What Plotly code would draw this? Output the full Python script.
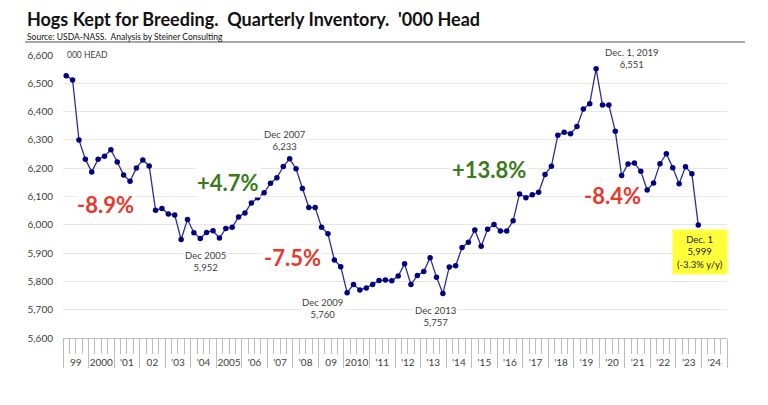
import plotly.graph_objects as go

# ---- data (quarterly breeding hog inventory, '000 head) ----
inventory = [
    6527, 6512, 6300, 6232, 6187, 6232, 6242, 6265, 6222, 6176,
    6154, 6201, 6229, 6208, 6051, 6058, 6038, 6035, 5948, 6019,
    5972, 5952, 5973, 5979, 5953, 5987, 5991, 6028, 6042, 6077,
    6096, 6113, 6147, 6166, 6206, 6233, 6198, 6128, 6061, 6061,
    5991, 5968, 5876, 5852, 5760, 5789, 5770, 5777, 5789, 5803,
    5805, 5802, 5819, 5862, 5789, 5821, 5835, 5884, 5815, 5757,
    5851, 5855, 5920, 5938, 5982, 5924, 5984, 6001, 5978, 5978,
    6014, 6109, 6096, 6106, 6115, 6178, 6207, 6316, 6327, 6322,
    6347, 6409, 6428, 6551, 6423, 6423, 6331, 6174, 6215, 6218,
    6189, 6123, 6148, 6216, 6251, 6202, 6145, 6205, 6180, 5999,
]
year_labels = ["99", "2000", "'01", "02", "'03", "'04", "2005", "'06", "'07", "'08",
               "09", "2010", "'11", "'12", "'13", "'14", "'15", "'16", "'17", "'18",
               "'19", "'20", "'21", "'22", "'23", "'24"]
quarters_per_year = 4
n_slots = len(year_labels) * quarters_per_year

# labelled points: (index, caption)
point_labels = [(21, "Dec 2005"), (35, "Dec 2007"), (44, "Dec 2009"),
                (59, "Dec 2013"), (83, "Dec. 1, 2019")]
point_shifts = {21: (5, -23), 35: (-5, 18), 44: (-25, -16), 59: (-7, -23), 83: (36, 10)}

pct_changes = [("-8.9%", 6.6, 6070, "#e8372c"), ("+4.7%", 25.8, 6148, "#3b7b20"),
               ("-7.5%", 36.0, 5883, "#e8372c"), ("+13.8%", 66.7, 6194, "#3b7b20"),
               ("-8.4%", 86.0, 6103, "#e8372c")]

x_pos = [i + 0.5 for i in range(len(inventory))]
FONT = "Lato, Calibri, Carlito, sans-serif"
TXT = "#404040"
TICK = "#bcbcbc"

fig = go.Figure()
# hidden trace on the label axis
fig.add_trace(go.Scatter(
    x=x_pos, y=inventory, xaxis="x2", yaxis="y", mode="markers",
    marker=dict(size=1, opacity=0), hoverinfo="skip", showlegend=False,
))
fig.add_trace(go.Scatter(
    x=x_pos, y=inventory, mode="lines+markers",
    line=dict(color="#2b2f95", width=1.3),
    marker=dict(color="#000080", size=5.5),
    hoverinfo="skip", showlegend=False,
))

annotations = []
for idx, cap in point_labels:
    dx, dy = point_shifts[idx]
    annotations.append(dict(
        x=x_pos[idx], y=inventory[idx], xref="x", yref="y",
        text=f"{cap}<br>{inventory[idx]:,}", showarrow=False,
        xshift=dx, yshift=dy, bgcolor="white",
        font=dict(family=FONT, size=9.5, color=TXT), align="center",
    ))
last = len(inventory) - 1
annotations.append(dict(
    x=x_pos[last], y=inventory[last], xref="x", yref="y",
    text=f"Dec. 1<br>{inventory[last]:,}<br>(-3.3% y/y)", showarrow=False,
    xshift=2, yshift=-27, bgcolor="#ffff3a", borderpad=4,
    font=dict(family=FONT, size=9.5, color="#202020"), align="center",
))
for txt, xx, yy, col in pct_changes:
    annotations.append(dict(
        x=xx, y=yy, xref="x", yref="y", text=f"<b>{txt}</b>", showarrow=False,
        bgcolor="white", font=dict(family=FONT, size=22, color=col),
    ))
annotations.append(dict(
    x=0.0, y=6600, xref="paper", yref="y", text="000 HEAD", showarrow=False,
    xanchor="left", xshift=2, bgcolor="white",
    font=dict(family=FONT, size=8.5, color=TXT),
))
annotations.append(dict(
    x=-0.0572, y=1.127, xref="paper", yref="paper", xanchor="left", yanchor="middle",
    text="<b>Hogs Kept for Breeding.\u00a0 Quarterly Inventory.\u00a0 '000 Head</b>",
    showarrow=False, font=dict(family=FONT, size=18, color="#111111"),
))
annotations.append(dict(
    x=-0.0572, y=1.064, xref="paper", yref="paper", xanchor="left", yanchor="middle",
    text="Source: USDA-NASS.\u00a0 Analysis by Steiner Consulting",
    showarrow=False, font=dict(family=FONT, size=8.5, color="#111111"),
))

fig.update_layout(
    width=768, height=405,
    margin=dict(l=63, r=41, t=55, b=67),
    paper_bgcolor="white", plot_bgcolor="white",
    font=dict(family=FONT, color=TXT),
    annotations=annotations,
    shapes=[dict(type="line", xref="paper", yref="paper", x0=-0.0572, x1=1.0271,
                 y0=1.046, y1=1.046, line=dict(color="#8a8a8a", width=1.5))],
    # long ticks at year boundaries + short quarter ticks
    xaxis=dict(
        range=[0, n_slots], tickmode="linear", tick0=0, dtick=quarters_per_year,
        showticklabels=False, ticks="outside", ticklen=29, tickcolor=TICK, tickwidth=1,
        minor=dict(tickmode="linear", tick0=0, dtick=1, ticks="outside",
                   ticklen=15, tickcolor=TICK, tickwidth=1),
        showline=True, linecolor=TICK,
    ),
    # year labels centred in each year
    xaxis2=dict(
        range=[0, n_slots], overlaying="x", anchor="y", side="bottom",
        tickmode="array",
        tickvals=[i * quarters_per_year + 2 for i in range(len(year_labels))],
        ticktext=year_labels, ticks="", ticklabelstandoff=17,
        tickfont=dict(family=FONT, size=10, color=TXT),
    ),
    yaxis=dict(
        range=[5600, 6600], dtick=100, tickformat=",", showgrid=True,
        gridcolor="#e6e6e6", gridwidth=1, zeroline=False, showline=False,
        ticks="", ticklabelstandoff=9,
        tickfont=dict(family=FONT, size=10, color=TXT),
    ),
)
fig.update_xaxes(showgrid=False, zeroline=False)

fig.write_html("out.html")
